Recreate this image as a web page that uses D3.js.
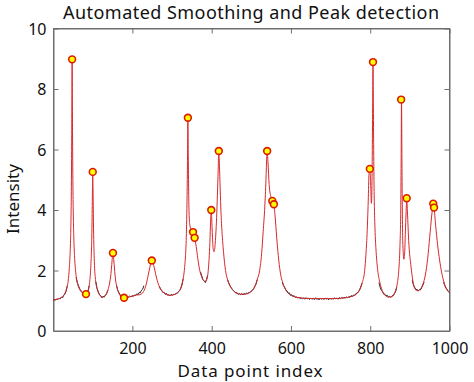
<!DOCTYPE html>
<html><head><meta charset="utf-8">
<script src="https://cdn.jsdelivr.net/npm/d3@7"></script>
<style>html,body{margin:0;padding:0;background:#fff;}svg{display:block;}</style>
</head><body>
<script>
// ---- data ----
const title = "Automated Smoothing and Peak detection";
const xLabel = "Data point index";
const yLabel = "Intensity";
const xTicks = [200, 400, 600, 800, 1000];
const yTicks = [0, 2, 4, 6, 8, 10];

// smoothed signal (x, y)
const smoothX = [0,10,20,28,34,38,41,43,44,45,46,47,48,49,50,51,52,54,57,62,68,75,83,88,92,95,97,98,99,100,101,102,104,107,112,118,124,130,137,142,146,148,150,151,152,154,157,161,166,172,179,188,200,210,219,228,235,240,244,247,249,252,256,261,267,275,285,295,305,315,322,327,331,334,336,338,339,340,341,342,343,345,348,351,353,355,357,361,365,370,375,380,384,388,391,394,396,397,398,399,400,402,404,406,408,410,412,414,416,418,419,421,423,426,430,435,440,448,458,470,485,497,507,515,521,526,530,534,537,538,540,542,545,549,553,557,560,564,568,573,580,587,596,605,620,640,660,680,700,720,740,755,765,773,780,786,789,792,795,797,799,801,803,804,805,806,807,808,809,810,812,815,819,824,830,836,846,856,863,868,872,875,877,878,879,880,881,882,885,887,889,891,892,894,897,903,912,920,926,933,939,945,950,955,958,959,961,965,970,975,980,987,995,1000];
const smoothY = [1.02,1.05,1.1,1.2,1.4,1.65,2.1,2.6,3.0,3.6,4.6,6.5,8.98,6.6,4.8,3.8,3.2,2.5,1.95,1.55,1.35,1.25,1.22,1.32,1.6,2.1,2.8,3.4,4.4,5.26,4.4,3.4,2.3,1.7,1.35,1.18,1.12,1.15,1.3,1.55,1.9,2.2,2.5,2.58,2.5,2.2,1.75,1.45,1.25,1.13,1.1,1.12,1.15,1.19,1.2,1.3,1.55,1.85,2.1,2.28,2.33,2.26,2.05,1.75,1.5,1.32,1.22,1.18,1.2,1.28,1.42,1.65,2.0,2.5,3.1,4.5,5.6,7.05,5.8,4.6,3.9,3.5,3.35,3.28,3.27,3.2,3.08,2.8,2.4,2.0,1.78,1.66,1.63,1.72,1.95,2.5,3.1,3.5,3.85,4.0,3.75,3.1,2.7,2.62,2.75,3.1,3.6,4.3,5.1,5.95,5.7,4.9,4.1,3.3,2.6,2.0,1.7,1.45,1.3,1.22,1.22,1.28,1.42,1.7,2.0,2.55,3.3,4.1,5.0,5.4,5.95,5.6,4.85,4.45,4.3,4.19,3.8,3.1,2.5,1.95,1.57,1.35,1.22,1.15,1.1,1.08,1.07,1.07,1.07,1.08,1.1,1.15,1.22,1.35,1.6,2.0,2.5,3.2,4.3,5.2,5.36,4.9,4.22,4.5,5.6,7.2,8.89,7.4,5.6,4.5,3.4,2.6,2.0,1.62,1.35,1.2,1.12,1.15,1.3,1.55,2.0,2.8,4.0,5.6,7.65,5.6,4.0,3.0,2.37,2.6,3.4,4.1,4.39,3.9,3.0,2.12,1.42,1.33,1.38,1.55,1.85,2.4,3.1,3.8,4.15,4.21,4.08,3.5,2.85,2.35,1.95,1.57,1.35,1.27];

// raw (noisy) data, visible stretches between peaks; null breaks the trace
const rawX = [0,3,6,9,12,15,18,21,24,27,30,33,36,null,
  58,61,64,67,70,73,76,79,82,85,88,91,null,
  108,111,114,117,120,123,126,129,132,135,138,null,
  160,163,166,169,172,175,178,181,184,187,190,193,196,199,202,205,208,211,214,217,220,223,226,229,null,
  268,271,274,277,280,283,286,289,292,295,298,301,304,307,310,313,316,319,322,325,328,null,
  372,375,378,381,384,387,390,null,
  440,443,446,449,452,455,458,461,464,467,470,473,476,479,482,485,488,491,494,497,500,503,506,509,512,515,null,
  578,581,584,587,590,593,596,599,602,605,608,611,614,617,620,623,626,629,632,635,638,641,644,647,650,653,656,659,662,665,668,671,674,677,680,683,686,689,692,695,698,701,704,707,710,713,716,719,722,725,728,731,734,737,740,743,746,749,752,755,758,761,764,767,770,773,776,779,null,
  822,825,828,831,834,837,840,843,846,849,852,855,858,861,864,867,null,
  906,909,912,915,918,921,924,927,930,933,936,null,
  985,988,991,994,997,1000];
const rawY = [1.01,1.04,1.02,1.06,1.04,1.08,1.06,1.12,1.1,1.19,1.22,1.33,1.5,null,
  1.78,1.6,1.5,1.4,1.33,1.3,1.24,1.27,1.2,1.26,1.3,1.5,null,
  1.62,1.4,1.3,1.2,1.17,1.1,1.15,1.12,1.19,1.24,1.35,null,
  1.5,1.35,1.27,1.2,1.12,1.15,1.08,1.12,1.09,1.14,1.11,1.16,1.13,1.17,1.14,1.19,1.17,1.23,1.2,1.27,1.26,1.35,1.38,1.5,null,
  1.48,1.38,1.34,1.27,1.28,1.21,1.24,1.18,1.2,1.16,1.21,1.18,1.22,1.2,1.25,1.24,1.3,1.33,1.4,1.52,1.72,null,
  1.95,1.82,1.7,1.66,1.6,1.7,1.85,null,
  1.7,1.6,1.5,1.44,1.38,1.33,1.3,1.25,1.27,1.21,1.24,1.2,1.23,1.19,1.24,1.21,1.26,1.24,1.27,1.28,1.32,1.36,1.4,1.48,1.55,1.7,null,
  1.62,1.5,1.45,1.36,1.33,1.25,1.26,1.18,1.2,1.14,1.17,1.11,1.13,1.09,1.12,1.07,1.1,1.06,1.09,1.05,1.1,1.06,1.08,1.04,1.09,1.05,1.08,1.04,1.1,1.05,1.07,1.03,1.09,1.05,1.08,1.04,1.09,1.06,1.08,1.03,1.09,1.05,1.08,1.05,1.1,1.06,1.09,1.05,1.1,1.07,1.11,1.08,1.12,1.09,1.13,1.1,1.14,1.12,1.17,1.14,1.19,1.18,1.24,1.25,1.3,1.36,1.45,1.58,null,
  1.6,1.45,1.35,1.3,1.22,1.22,1.16,1.18,1.12,1.15,1.11,1.16,1.17,1.24,1.3,1.45,null,
  1.68,1.52,1.45,1.36,1.38,1.32,1.37,1.36,1.44,1.52,1.62,null,
  1.62,1.5,1.42,1.36,1.3,1.27];

// detected peaks
const peakX = [48,83,100,151,179,249,340,353,357,399,418,540,553,557,799,807,878,892,959,961];
const peakY = [8.98,1.22,5.26,2.58,1.1,2.33,7.05,3.27,3.08,4.0,5.95,5.95,4.3,4.19,5.36,8.89,7.65,4.39,4.21,4.08];

// ---- chart ----
const W = 474, H = 382;
const m = {left: 53.5, right: 449.5, top: 28.5, bottom: 331};
const font = "'Noto Sans', 'DejaVu Sans', sans-serif";

const svg = d3.select("body").append("svg").attr("width", W).attr("height", H);
svg.append("rect").attr("width", W).attr("height", H).attr("fill", "#fff");

const x = d3.scaleLinear().domain([1, 1000]).range([m.left, m.right]);
const y = d3.scaleLinear().domain([0, 10]).range([m.bottom, m.top]);

const axisColor = "#6e6e6e";
const tickLen = 5;
const fmt = d3.format("d");

const gx = svg.append("g").attr("transform", `translate(0,${m.bottom})`)
  .call(d3.axisBottom(x).tickValues(xTicks).tickFormat(fmt).tickSizeInner(-tickLen).tickSizeOuter(0).tickPadding(12));
const gxt = svg.append("g").attr("transform", `translate(0,${m.top})`)
  .call(d3.axisTop(x).tickValues(xTicks).tickSizeInner(-tickLen).tickSizeOuter(0).tickFormat(""));
const gy = svg.append("g").attr("transform", `translate(${m.left},0)`)
  .call(d3.axisLeft(y).tickValues(yTicks).tickFormat(fmt).tickSizeInner(-tickLen).tickSizeOuter(0).tickPadding(7));
const gyr = svg.append("g").attr("transform", `translate(${m.right},0)`)
  .call(d3.axisRight(y).tickValues(yTicks).tickSizeInner(-tickLen).tickSizeOuter(0).tickFormat(""));

[gx, gxt, gy, gyr].forEach(g => {
  g.select(".domain").attr("stroke", axisColor);
  g.selectAll(".tick line").attr("stroke", axisColor);
  g.selectAll(".tick text").attr("fill", "#111").style("font-family", font).style("font-size", "16px");
});
gx.selectAll(".tick text").attr("dy", "0.71em").attr("y", 12);
gy.selectAll(".tick text").attr("dy", "0.35em");

svg.append("rect").attr("x", m.left).attr("y", m.top)
  .attr("width", m.right - m.left).attr("height", m.bottom - m.top)
  .attr("fill", "none").attr("stroke", axisColor).attr("stroke-width", 1);

// raw data
const rawPts = rawX.map((v, i) => [v, rawY[i]]);
const rawLine = d3.line().defined(d => d[0] !== null && d[1] !== null)
  .x(d => x(d[0])).y(d => y(d[1]));
svg.append("path").datum(rawPts).attr("d", rawLine)
  .attr("fill", "none").attr("stroke", "#111").attr("stroke-width", 0.9);

// smoothed data
const smPts = smoothX.map((v, i) => [v, smoothY[i]]);
const smLine = d3.line().curve(d3.curveMonotoneX).x(d => x(d[0])).y(d => y(d[1]));
svg.append("path").datum(smPts).attr("d", smLine)
  .attr("fill", "none").attr("stroke", "#d8282c").attr("stroke-width", 1);

// peaks
svg.append("g").selectAll("circle").data(peakX.map((v, i) => [v, peakY[i]]))
  .join("circle").attr("cx", d => x(d[0])).attr("cy", d => y(d[1])).attr("r", 3.4)
  .attr("fill", "#ffff00").attr("stroke", "#dd1a00").attr("stroke-width", 1.6);

// labels
svg.append("text").attr("x", 251).attr("y", 19).attr("text-anchor", "middle")
  .style("font-family", font).style("font-size", "18px").attr("fill", "#111")
  .attr("textLength", 376).attr("lengthAdjust", "spacing").text(title);
svg.append("text").attr("x", 250).attr("y", 377).attr("text-anchor", "middle")
  .style("font-family", font).style("font-size", "17px").attr("fill", "#111")
  .attr("textLength", 145).attr("lengthAdjust", "spacing").text(xLabel);
svg.append("text").attr("transform", "translate(19,199) rotate(-90)").attr("text-anchor", "middle")
  .style("font-family", font).style("font-size", "17px").attr("fill", "#111")
  .text(yLabel);
</script>
</body></html>
